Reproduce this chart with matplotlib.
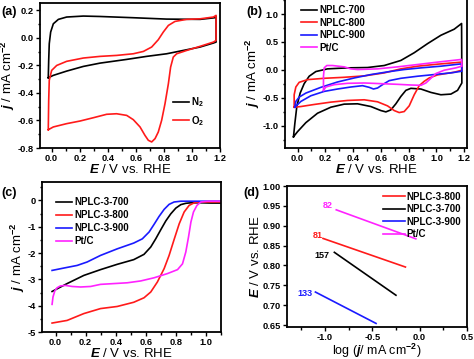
import matplotlib
matplotlib.use("Agg")

import matplotlib.pyplot as plt
from matplotlib.ticker import MultipleLocator, FormatStrFormatter

plt.rcParams['font.family'] = ['Liberation Sans', 'DejaVu Sans']
plt.rcParams['font.weight'] = 'bold'
plt.rcParams['axes.unicode_minus'] = False
plt.rcParams['mathtext.fontset'] = 'custom'
plt.rcParams['mathtext.rm'] = 'Liberation Sans:bold'
plt.rcParams['mathtext.it'] = 'Liberation Sans:italic:bold'
plt.rcParams['mathtext.bf'] = 'Liberation Sans:bold'

# (a) CV in N2 / O2
a_n2_E = [-0.024, -0.021, -0.017, -0.007, 0.012, 0.048, 0.107, 0.226, 0.345, 0.582, 0.82, 1.058, 1.164, 1.172,
          1.172, 1.153, 1.058, 0.962, 0.82, 0.677, 0.535, 0.345, 0.226, 0.107, 0.012, -0.024]
a_n2_j = [-0.289, -0.163, -0.042, 0.043, 0.103, 0.135, 0.152, 0.159, 0.156, 0.147, 0.137, 0.135, 0.147, 0.156,
          -0.03, -0.037, -0.066, -0.086, -0.115, -0.134, -0.156, -0.183, -0.207, -0.241, -0.272, -0.289]
a_o2_E = [-0.024, -0.021, -0.017, 0.0, 0.036, 0.107, 0.226, 0.345, 0.463, 0.582, 0.654, 0.713, 0.76, 0.796, 0.832,
          0.879, 0.962, 1.058, 1.153, 1.172, 1.172, 1.153, 1.058, 0.962, 0.891, 0.867, 0.848, 0.832, 0.808, 0.784,
          0.76, 0.737, 0.713, 0.689, 0.665, 0.63, 0.582, 0.535, 0.463, 0.392, 0.297, 0.202, 0.107, 0.012, -0.024]
a_o2_j = [-0.667, -0.454, -0.308, -0.236, -0.2, -0.17, -0.146, -0.134, -0.127, -0.115, -0.098, -0.066, -0.013,
          0.043, 0.091, 0.12, 0.135, 0.139, 0.152, 0.164, -0.018, -0.03, -0.061, -0.091, -0.115, -0.139, -0.212,
          -0.333, -0.478, -0.599, -0.684, -0.732, -0.756, -0.744, -0.708, -0.647, -0.594, -0.563, -0.551, -0.555,
          -0.58, -0.604, -0.623, -0.647, -0.667]

# (b) CVs of the samples
b_700_E = [-0.029, -0.019, -0.005, 0.019, 0.048, 0.084, 0.132, 0.216, 0.36, 0.504, 0.624, 0.744, 0.84, 0.936,
           1.032, 1.128, 1.181, 1.183, 1.152, 1.104, 1.032, 0.96, 0.888, 0.816, 0.78, 0.744, 0.708, 0.672, 0.636,
           0.6, 0.528, 0.432, 0.336, 0.24, 0.144, 0.06, 0.0, -0.029]
b_700_j = [-1.199, -0.958, -0.657, -0.416, -0.247, -0.114, -0.03, 0.018, 0.036, 0.042, 0.078, 0.169, 0.307, 0.47,
           0.62, 0.729, 0.831, -0.235, -0.367, -0.434, -0.446, -0.404, -0.343, -0.331, -0.367, -0.476, -0.608,
           -0.717, -0.753, -0.729, -0.657, -0.608, -0.614, -0.669, -0.777, -0.946, -1.108, -1.199]
b_800_E = [-0.024, -0.024, -0.012, 0.012, 0.072, 0.192, 0.336, 0.48, 0.624, 0.744, 0.864, 1.008, 1.181, 1.183,
           1.128, 1.008, 0.948, 0.912, 0.876, 0.84, 0.804, 0.768, 0.732, 0.696, 0.648, 0.576, 0.48, 0.36, 0.24,
           0.12, 0.024, -0.024]
b_800_j = [-0.669, -0.446, -0.307, -0.223, -0.175, -0.151, -0.133, -0.108, -0.054, 0.018, 0.066, 0.102, 0.139,
           -0.006, -0.042, -0.09, -0.145, -0.205, -0.283, -0.446, -0.645, -0.747, -0.765, -0.729, -0.645, -0.572,
           -0.536, -0.548, -0.578, -0.62, -0.657, -0.669]
b_900_E = [-0.019, -0.012, 0.012, 0.06, 0.168, 0.288, 0.408, 0.528, 0.648, 0.768, 0.888, 1.032, 1.181, 1.183,
           1.104, 0.984, 0.864, 0.744, 0.66, 0.612, 0.576, 0.547, 0.516, 0.468, 0.384, 0.288, 0.192, 0.096, 0.024,
           -0.019]
b_900_j = [-0.669, -0.566, -0.488, -0.416, -0.313, -0.217, -0.145, -0.084, -0.036, 0.006, 0.036, 0.066, 0.108,
           -0.024, -0.054, -0.084, -0.114, -0.151, -0.193, -0.265, -0.325, -0.343, -0.313, -0.283, -0.307, -0.343,
           -0.386, -0.464, -0.566, -0.669]
b_ptc_E = [0.187, 0.187, 0.192, 0.211, 0.252, 0.336, 0.384, 0.432, 0.576, 0.72, 0.864, 1.008, 1.181, 1.183, 1.14,
           1.056, 0.996, 0.96, 0.924, 0.888, 0.816, 0.72, 0.6, 0.48, 0.36, 0.264, 0.204, 0.187]
b_ptc_j = [-0.367, -0.114, 0.036, 0.078, 0.078, 0.054, 0.018, 0.006, 0.018, 0.054, 0.096, 0.139, 0.187, 0.066,
           0.036, -0.006, -0.066, -0.151, -0.235, -0.277, -0.271, -0.259, -0.247, -0.235, -0.241, -0.265, -0.307,
           -0.367]

# (c) LSV curves
c_700_E = [-0.023, 0.077, 0.188, 0.299, 0.409, 0.52, 0.588, 0.633, 0.666, 0.70, 0.733, 0.766, 0.80, 0.833, 0.866,
           0.90, 0.966, 1.033, 1.10]
c_700_j = [-3.46, -3.16, -2.85, -2.63, -2.43, -2.25, -2.05, -1.77, -1.46, -1.11, -0.78, -0.51, -0.29, -0.16, -0.11,
           -0.09, -0.09, -0.10, -0.10]
c_800_E = [-0.023, 0.077, 0.188, 0.299, 0.41, 0.52, 0.588, 0.633, 0.677, 0.722, 0.755, 0.788, 0.822, 0.855, 0.888,
           0.922, 0.955, 1.011, 1.10]
c_800_j = [-4.66, -4.56, -4.30, -4.11, -4.03, -3.87, -3.70, -3.48, -3.10, -2.59, -2.09, -1.49, -0.89, -0.44, -0.19,
           -0.09, -0.06, -0.06, -0.06]
c_900_E = [-0.023, 0.055, 0.144, 0.21, 0.299, 0.41, 0.52, 0.577, 0.622, 0.655, 0.688, 0.722, 0.755, 0.788, 0.833,
           0.90, 1.011, 1.10]
c_900_j = [-2.66, -2.57, -2.47, -2.34, -2.09, -1.84, -1.62, -1.46, -1.20, -0.91, -0.61, -0.34, -0.15, -0.06, -0.03,
           -0.03, -0.03, -0.03]
c_ptc_E = [-0.023, -0.017, -0.005, 0.01, 0.032, 0.066, 0.11, 0.166, 0.233, 0.299, 0.388, 0.477, 0.566, 0.655,
           0.744, 0.811, 0.844, 0.866, 0.884, 0.90, 0.917, 0.94, 0.966, 1.011, 1.10]
c_ptc_j = [-3.95, -3.67, -3.44, -3.32, -3.25, -3.23, -3.27, -3.29, -3.27, -3.19, -3.16, -3.13, -3.06, -2.94, -2.78,
           -2.63, -2.41, -1.96, -1.39, -0.82, -0.44, -0.19, -0.06, -0.03, -0.03]

# (d) Tafel lines
d_800_x, d_800_y = [-1.02, -0.15], [0.868, 0.796]
d_700_x, d_700_y = [-0.90, -0.25], [0.833, 0.725]
d_900_x, d_900_y = [-1.10, -0.46], [0.733, 0.654]
d_ptc_x, d_ptc_y = [-0.88, -0.04], [0.940, 0.867]
slopes = ['81', '157', '133', '82']
slope_pos = [(-1.08, 0.875), (-1.03, 0.825), (-1.21, 0.730), (-0.97, 0.952)]

RED = '#ff1a1a'
BLUE = '#1a1aff'
MAG = '#ff22ff'
LW = 1.2
LAB = 9.5

fig = plt.figure(figsize=(4.74, 3.59), dpi=100)
W, H = 474.0, 359.0


def make_ax(left, right, top, bottom):
    ax = fig.add_axes([left / W, 1 - bottom / H, (right - left) / W, (bottom - top) / H])
    for s in ax.spines.values():
        s.set_linewidth(1.3)
    ax.tick_params(which='both', direction='out', labelsize=6.7, width=1.0, pad=1.5)
    ax.tick_params(which='major', length=3)
    ax.tick_params(which='minor', length=1.8)
    return ax


jlabel = r'$j$ / mA cm$^{-2}$'
elabel = r'$E$ / V vs. RHE'
leg_prop = {'weight': 'bold', 'size': 7}

# ---- (a)
ax = make_ax(40, 220, 3, 148)
ax.plot(a_n2_E, a_n2_j, color='black', lw=LW, label=r'N$_2$')
ax.plot(a_o2_E, a_o2_j, color=RED, lw=LW, label=r'O$_2$')
ax.set_xlim(-0.083, 1.2)
ax.set_ylim(-0.8, 0.254)
ax.xaxis.set_major_locator(MultipleLocator(0.2))
ax.xaxis.set_minor_locator(MultipleLocator(0.1))
ax.yaxis.set_major_locator(MultipleLocator(0.2))
ax.yaxis.set_minor_locator(MultipleLocator(0.1))
ax.xaxis.set_major_formatter(FormatStrFormatter('%.1f'))
ax.yaxis.set_major_formatter(FormatStrFormatter('%.1f'))
ax.set_xlabel(elabel, fontsize=LAB, labelpad=0)
ax.set_ylabel(jlabel, fontsize=LAB, labelpad=0)
ax.legend(loc='upper left', bbox_to_anchor=(0.71, 0.395), frameon=False, prop=leg_prop,
          handlelength=1.7, handletextpad=0.2, labelspacing=0.45, borderpad=0)

# ---- (b)
ax = make_ax(285, 467, -1, 148)
ax.plot(b_700_E, b_700_j, color='black', lw=LW, label='NPLC-700')
ax.plot(b_800_E, b_800_j, color=RED, lw=LW, label='NPLC-800')
ax.plot(b_900_E, b_900_j, color=BLUE, lw=LW, label='NPLC-900')
ax.plot(b_ptc_E, b_ptc_j, color=MAG, lw=LW, label='Pt/C')
ax.set_xlim(-0.09, 1.22)
ax.set_ylim(-1.4, 1.27)
ax.xaxis.set_major_locator(MultipleLocator(0.2))
ax.xaxis.set_minor_locator(MultipleLocator(0.1))
ax.yaxis.set_major_locator(MultipleLocator(0.5))
ax.yaxis.set_minor_locator(MultipleLocator(0.25))
ax.xaxis.set_major_formatter(FormatStrFormatter('%.1f'))
ax.yaxis.set_major_formatter(FormatStrFormatter('%.1f'))
ax.set_xlabel(elabel, fontsize=LAB, labelpad=0)
ax.set_ylabel(jlabel, fontsize=LAB, labelpad=0)
ax.legend(loc='upper left', bbox_to_anchor=(0.06, 0.99), frameon=False, prop=leg_prop,
          handlelength=1.7, handletextpad=0.2, labelspacing=0.25, borderpad=0)

# ---- (c)
ax = make_ax(42, 221, 182, 332)
ax.plot(c_700_E, c_700_j, color='black', lw=LW, label='NPLC-3-700')
ax.plot(c_800_E, c_800_j, color=RED, lw=LW, label='NPLC-3-800')
ax.plot(c_900_E, c_900_j, color=BLUE, lw=LW, label='NPLC-3-900')
ax.plot(c_ptc_E, c_ptc_j, color=MAG, lw=LW, label='Pt/C')
ax.set_xlim(-0.09, 1.10)
ax.set_ylim(-5, 0.7)
ax.xaxis.set_major_locator(MultipleLocator(0.2))
ax.xaxis.set_minor_locator(MultipleLocator(0.1))
ax.yaxis.set_major_locator(MultipleLocator(1))
ax.yaxis.set_minor_locator(MultipleLocator(0.5))
ax.xaxis.set_major_formatter(FormatStrFormatter('%.1f'))
ax.yaxis.set_major_formatter(FormatStrFormatter('%d'))
ax.set_xlabel(elabel, fontsize=LAB, labelpad=0)
ax.set_ylabel(jlabel, fontsize=LAB, labelpad=0)
ax.legend(loc='upper left', bbox_to_anchor=(0.05, 0.93), frameon=False, prop=leg_prop,
          handlelength=1.7, handletextpad=0.2, labelspacing=0.3, borderpad=0)

# ---- (d)
ax = make_ax(287, 467, 186, 327)
ax.plot(d_800_x, d_800_y, color=RED, lw=LW, label='NPLC-3-800')
ax.plot(d_700_x, d_700_y, color='black', lw=LW, label='NPLC-3-700')
ax.plot(d_900_x, d_900_y, color=BLUE, lw=LW, label='NPLC-3-900')
ax.plot(d_ptc_x, d_ptc_y, color=MAG, lw=LW, label='Pt/C')
for txt, (tx, ty), col in zip(slopes, slope_pos, [RED, 'black', BLUE, MAG]):
    ax.text(tx, ty, txt, color=col, fontsize=6.5, fontweight='bold', ha='center', va='center')
ax.set_xlim(-1.4, 0.5)
ax.set_ylim(0.645, 1.0)
ax.xaxis.set_major_locator(MultipleLocator(0.5))
ax.xaxis.set_minor_locator(MultipleLocator(0.25))
ax.yaxis.set_major_locator(MultipleLocator(0.05))
ax.xaxis.set_major_formatter(FormatStrFormatter('%.1f'))
ax.yaxis.set_major_formatter(FormatStrFormatter('%.2f'))
ax.set_xlabel(r'log ($j$/ mA cm$^{-2}$)', fontsize=9, labelpad=-0.5)
ax.set_ylabel(elabel, fontsize=LAB, labelpad=0)
ax.legend(loc='upper right', bbox_to_anchor=(1.0, 1.0), frameon=False, prop=leg_prop,
          handlelength=2.2, handletextpad=0.2, labelspacing=0.25, borderpad=0.1)

# panel letters
fig.text(1 / W, 1 - 12 / H, '(a)', fontsize=9, fontweight='bold', va='center')
fig.text(246 / W, 1 - 12 / H, '(b)', fontsize=9, fontweight='bold', va='center')
fig.text(1 / W, 1 - 193 / H, '(c)', fontsize=9, fontweight='bold', va='center')
fig.text(243 / W, 1 - 193 / H, '(d)', fontsize=9, fontweight='bold', va='center')

plt.savefig('out.png', dpi=100)
